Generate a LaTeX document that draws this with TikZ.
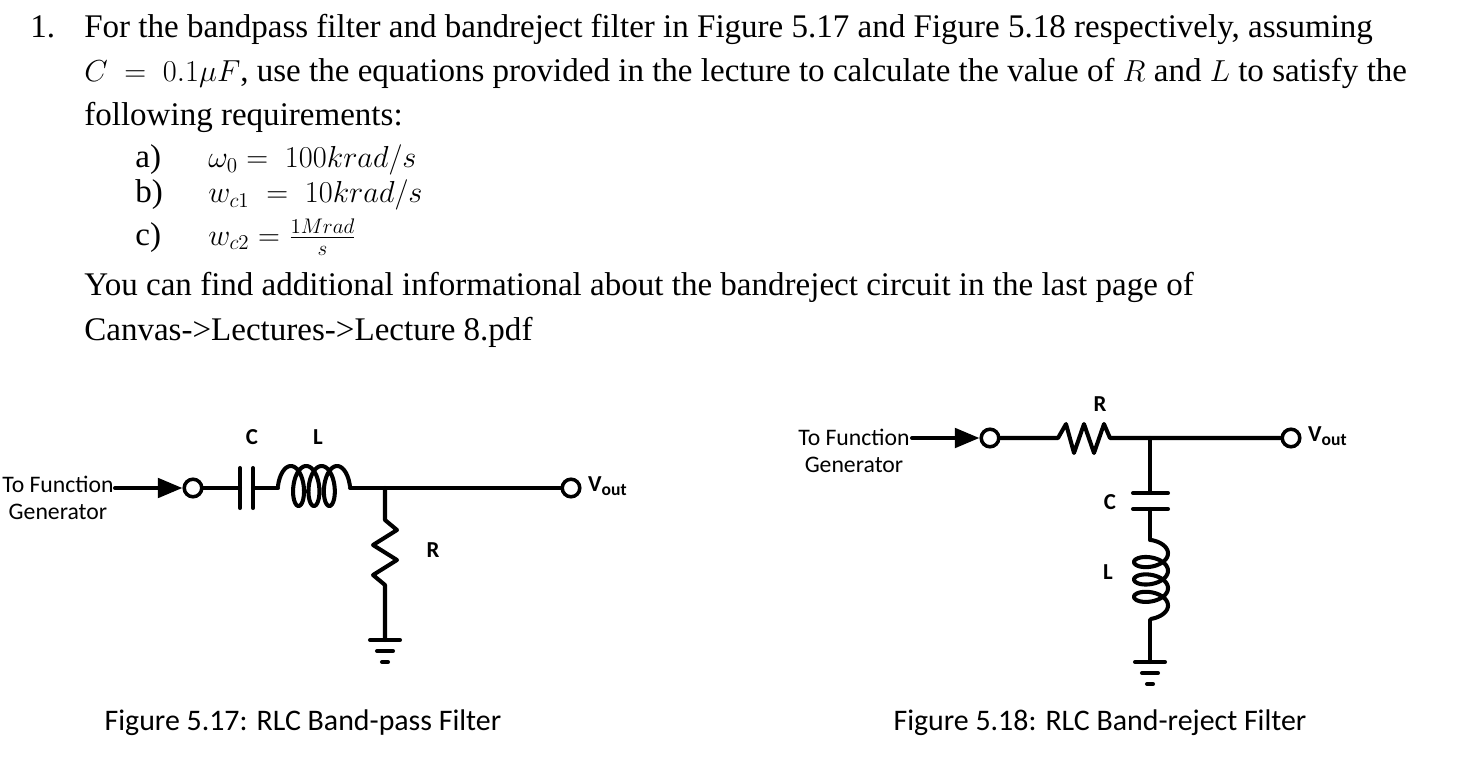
\documentclass[tikz,border=0pt]{standalone}
\usepackage{fontspec}
\setmainfont{Liberation Serif}
\newfontfamily\calibri{Carlito}
\usetikzlibrary{arrows.meta,calc}
\tikzset{
  wire/.style={line width=2.3pt, line cap=round, line join=round},
  term/.style={circle, draw, line width=2pt, inner sep=0pt, minimum size=10pt, fill=white},
  lbl/.style={font=\calibri\bfseries\fontsize{13}{13}\selectfont},
  txt/.style={font=\fontsize{18.8}{21}\selectfont, anchor=base west, inner sep=0pt},
  gtext/.style={font=\calibri\fontsize{13.5}{15.5}\selectfont, inner sep=0pt},
  ctext/.style={font=\calibri\fontsize{17}{18}\selectfont, inner sep=0pt},
}
\newcommand{\ground}[1]{%
  \draw[wire] ($(#1)+(-15,0)$) -- ($(#1)+(15,0)$);
  \draw[wire] ($(#1)+(-8,11)$) -- ($(#1)+(8,11)$);
  \draw[wire] ($(#1)+(-3,22)$) -- ($(#1)+(3,22)$);}
\newcommand{\vout}{\fontsize{13}{13}\selectfont V\raisebox{-0.35ex}{\fontsize{10}{10}\selectfont out}}
\begin{document}
\begin{tikzpicture}[x=0.02cm, y=-0.02cm]
  \useasboundingbox (0,0) rectangle (1470,770);

  % Question text
  \node[txt] at (30,38) {1.};
  \node[txt] at (84,38) {For the bandpass filter and bandreject filter in Figure 5.17 and Figure 5.18 respectively, assuming};
  \node[txt] at (84,82) {$C\ =\ 0.1\mu F$, use the equations provided in the lecture to calculate the value of $R$ and $L$ to satisfy the};
  \node[txt] at (84,126) {following requirements:};
  \node[txt] at (135,168) {a)};
  \node[txt] at (208,168) {$\omega_0 =\ 100krad/s$};
  \node[txt] at (135,203) {b)};
  \node[txt] at (208,203) {$w_{c1}\ =\ 10krad/s$};
  \node[txt] at (135,245) {c)};
  \node[txt] at (208,245) {$w_{c2} = \frac{1Mrad}{s}$};
  \node[txt] at (84,296) {You can find additional informational about the bandreject circuit in the last page of};
  \node[txt] at (84,340) {Canvas->Lectures->Lecture 8.pdf};

  % Band-pass filter
  \node[gtext, align=center, anchor=east] (gen1) at (114,498) {To Function\\Generator};
  \node[term] (in1) at (193,488) {};
  \node[term] (out1) at (571,488) {};
  \node[lbl, anchor=west] at (582,486) {\vout};
  \coordinate (g1) at (115,488);
  \draw[wire, -{Triangle[length=14pt, width=11pt]}] (g1) -- (in1.west);
  \draw[wire] (in1) -- (240,488);
  \draw[wire] (240,468) -- (240,508) (253,468) -- (253,508);
  \draw[wire] (253,488) -- (278,488);
  \draw[wire] plot[domain=0:3.5, samples=160, smooth] ({287+15.4*\x+9*cos(180+360*\x)}, {486+20*sin(180+360*\x)});
  \draw[wire] (350,488) -- (out1);
  \coordinate (j1) at (385,488);
  \draw[wire] (j1) -- (385,520) -- (397,530) -- (373,545) -- (397,560) -- (373,575) -- (385,585) -- (385,640);
  \ground{385,640}
  \node[lbl] at (252,437) {C};
  \node[lbl] at (318,437) {L};
  \node[lbl] at (433,550) {R};
  \node[ctext] at (303,723) {Figure 5.17: RLC Band-pass Filter};

  % Band-reject filter
  \node[gtext, align=center, anchor=east] (gen2) at (910,451) {To Function\\Generator};
  \node[term] (in2) at (990,438) {};
  \node[term] (out2) at (1291,438) {};
  \node[lbl, anchor=west] at (1302,436) {\vout};
  \coordinate (g2) at (912,438);
  \draw[wire, -{Triangle[length=14pt, width=11pt]}] (g2) -- (in2.west);
  \draw[wire] (in2) -- (1058,438) -- (1066,424) -- (1074,453) -- (1084,424) -- (1094,453) -- (1104,424) -- (1110,438) -- (out2);
  \coordinate (j2) at (1150,438);
  \draw[wire] (j2) -- (1150,492);
  \draw[wire] (1133,493) -- (1168,493) (1133,509) -- (1168,509);
  \draw[wire] (1150,509) -- (1150,540);
  \draw[wire] plot[domain=0:3.5, samples=160, smooth] ({1151+17*sin(360*\x)}, {549+17.4*\x-9*cos(360*\x)});
  \draw[wire] (1150,620) -- (1150,662);
  \ground{1150,662}
  \node[lbl] at (1100,404) {R};
  \node[lbl] at (1110,502) {C};
  \node[lbl] at (1108,572) {L};
  \node[ctext] at (1100,723) {Figure 5.18: RLC Band-reject Filter};
\end{tikzpicture}
\end{document}
